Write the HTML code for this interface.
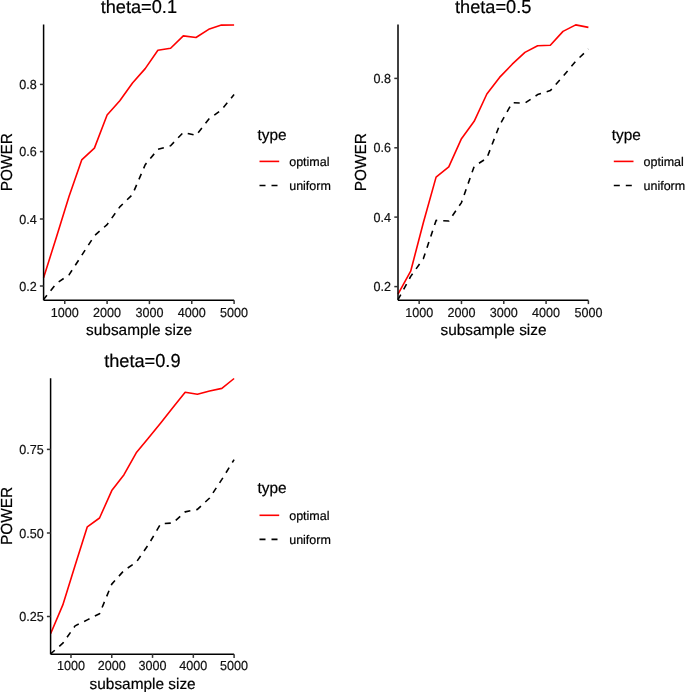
<!DOCTYPE html>
<html><head><meta charset="utf-8"><title>Power curves</title>
<style>
html,body{margin:0;padding:0;background:#fff;}
body{width:685px;height:692px;overflow:hidden;}
svg{display:block;font-family:"Liberation Sans",Arial,Helvetica,sans-serif;}
text{stroke-width:0.2px;paint-order:stroke;text-rendering:geometricPrecision;}
</style></head>
<body>
<svg width="685" height="692" viewBox="0 0 685 692">
<rect width="685" height="692" fill="#fff"/>
<text x="100.65" y="13.00" font-size="18.2" fill="#000" stroke="#000">theta=</text>
<text transform="translate(151.75,13.00) scale(1,1.04)" font-size="18.2" fill="#000" stroke="#000">0.1</text>
<polyline points="43.60,277.70 56.30,237.50 69.00,196.60 81.70,159.90 94.40,148.10 107.10,115.00 119.80,100.80 132.50,83.00 145.20,68.60 157.90,50.20 170.60,48.30 183.30,35.90 196.00,37.50 208.70,29.30 221.40,25.10 234.10,25.00" fill="none" stroke="#FF0000" stroke-width="1.6" stroke-linejoin="round"/>
<polyline points="43.60,299.50 56.30,283.50 69.00,274.90 81.70,255.40 94.40,235.80 107.10,224.60 119.80,206.90 132.50,194.50 145.20,164.70 157.90,149.40 170.60,145.70 183.30,132.40 196.00,135.40 208.70,119.20 221.40,109.90 234.10,94.60" fill="none" stroke="#000" stroke-width="1.6" stroke-linejoin="round" stroke-dasharray="6.00 6.00" stroke-dashoffset="0.69"/>
<line x1="43.60" y1="24.50" x2="43.60" y2="300.35" stroke="#000" stroke-width="1.5"/>
<line x1="43.60" y1="300.35" x2="234.10" y2="300.35" stroke="#000" stroke-width="1.5"/>
<line x1="39.90" y1="286.00" x2="43.60" y2="286.00" stroke="#333" stroke-width="1.5"/>
<text transform="translate(36.70,290.50) scale(1,1.04)" font-size="12.6" text-anchor="end" fill="#111" stroke="#111">0.2</text>
<line x1="39.90" y1="219.00" x2="43.60" y2="219.00" stroke="#333" stroke-width="1.5"/>
<text transform="translate(36.70,223.50) scale(1,1.04)" font-size="12.6" text-anchor="end" fill="#111" stroke="#111">0.4</text>
<line x1="39.90" y1="151.60" x2="43.60" y2="151.60" stroke="#333" stroke-width="1.5"/>
<text transform="translate(36.70,156.10) scale(1,1.04)" font-size="12.6" text-anchor="end" fill="#111" stroke="#111">0.6</text>
<line x1="39.90" y1="84.40" x2="43.60" y2="84.40" stroke="#333" stroke-width="1.5"/>
<text transform="translate(36.70,88.90) scale(1,1.04)" font-size="12.6" text-anchor="end" fill="#111" stroke="#111">0.8</text>
<line x1="64.77" y1="300.35" x2="64.77" y2="304.10" stroke="#333" stroke-width="1.5"/>
<text transform="translate(64.77,316.60) scale(1,1.04)" font-size="12.6" text-anchor="middle" fill="#111" stroke="#111">1000</text>
<line x1="107.10" y1="300.35" x2="107.10" y2="304.10" stroke="#333" stroke-width="1.5"/>
<text transform="translate(107.10,316.60) scale(1,1.04)" font-size="12.6" text-anchor="middle" fill="#111" stroke="#111">2000</text>
<line x1="149.43" y1="300.35" x2="149.43" y2="304.10" stroke="#333" stroke-width="1.5"/>
<text transform="translate(149.43,316.60) scale(1,1.04)" font-size="12.6" text-anchor="middle" fill="#111" stroke="#111">3000</text>
<line x1="191.77" y1="300.35" x2="191.77" y2="304.10" stroke="#333" stroke-width="1.5"/>
<text transform="translate(191.77,316.60) scale(1,1.04)" font-size="12.6" text-anchor="middle" fill="#111" stroke="#111">4000</text>
<line x1="234.10" y1="300.35" x2="234.10" y2="304.10" stroke="#333" stroke-width="1.5"/>
<text transform="translate(234.10,316.60) scale(1,1.04)" font-size="12.6" text-anchor="middle" fill="#111" stroke="#111">5000</text>
<text x="139.15" y="334.70" font-size="15.4" text-anchor="middle" fill="#000" stroke="#000">subsample size</text>
<text transform="translate(11.60,162.25) rotate(-90) scale(1,1.04)" x="0" y="0" font-size="15.4" text-anchor="middle" fill="#000" stroke="#000">POWER</text>
<text x="257.50" y="139.50" font-size="15.4" fill="#000" stroke="#000">type</text>
<line x1="259.50" y1="161.40" x2="279.20" y2="161.40" stroke="#FF0000" stroke-width="1.6"/>
<line x1="259.50" y1="185.50" x2="279.20" y2="185.50" stroke="#000" stroke-width="1.6" stroke-dasharray="6.00 6.00"/>
<text x="289.20" y="165.90" font-size="12.5" fill="#000" stroke="#000">optimal</text>
<text x="289.20" y="189.80" font-size="12.5" fill="#000" stroke="#000">uniform</text>
<text x="455.00" y="13.00" font-size="18.2" fill="#000" stroke="#000">theta=</text>
<text transform="translate(506.10,13.00) scale(1,1.04)" font-size="18.2" fill="#000" stroke="#000">0.5</text>
<polyline points="398.00,294.10 410.69,271.20 423.39,222.50 436.08,177.10 448.77,166.80 461.47,138.70 474.16,121.30 486.85,94.00 499.55,77.40 512.24,64.20 524.93,52.40 537.63,45.80 550.32,45.30 563.01,31.40 575.71,24.90 588.40,27.40" fill="none" stroke="#FF0000" stroke-width="1.6" stroke-linejoin="round"/>
<polyline points="398.00,299.70 410.69,276.40 423.39,258.60 436.08,220.40 448.77,221.00 461.47,202.60 474.16,166.40 486.85,158.10 499.55,125.20 512.24,102.70 524.93,103.10 537.63,94.60 550.32,90.60 563.01,76.40 575.71,61.20 588.40,49.10" fill="none" stroke="#000" stroke-width="1.6" stroke-linejoin="round" stroke-dasharray="6.00 6.00" stroke-dashoffset="0.19"/>
<line x1="398.00" y1="24.50" x2="398.00" y2="300.35" stroke="#000" stroke-width="1.5"/>
<line x1="398.00" y1="300.35" x2="588.40" y2="300.35" stroke="#000" stroke-width="1.5"/>
<line x1="394.30" y1="286.60" x2="398.00" y2="286.60" stroke="#333" stroke-width="1.5"/>
<text transform="translate(391.10,291.10) scale(1,1.04)" font-size="12.6" text-anchor="end" fill="#111" stroke="#111">0.2</text>
<line x1="394.30" y1="217.10" x2="398.00" y2="217.10" stroke="#333" stroke-width="1.5"/>
<text transform="translate(391.10,221.60) scale(1,1.04)" font-size="12.6" text-anchor="end" fill="#111" stroke="#111">0.4</text>
<line x1="394.30" y1="147.80" x2="398.00" y2="147.80" stroke="#333" stroke-width="1.5"/>
<text transform="translate(391.10,152.30) scale(1,1.04)" font-size="12.6" text-anchor="end" fill="#111" stroke="#111">0.6</text>
<line x1="394.30" y1="78.40" x2="398.00" y2="78.40" stroke="#333" stroke-width="1.5"/>
<text transform="translate(391.10,82.90) scale(1,1.04)" font-size="12.6" text-anchor="end" fill="#111" stroke="#111">0.8</text>
<line x1="419.16" y1="300.35" x2="419.16" y2="304.10" stroke="#333" stroke-width="1.5"/>
<text transform="translate(419.16,316.60) scale(1,1.04)" font-size="12.6" text-anchor="middle" fill="#111" stroke="#111">1000</text>
<line x1="461.47" y1="300.35" x2="461.47" y2="304.10" stroke="#333" stroke-width="1.5"/>
<text transform="translate(461.47,316.60) scale(1,1.04)" font-size="12.6" text-anchor="middle" fill="#111" stroke="#111">2000</text>
<line x1="503.78" y1="300.35" x2="503.78" y2="304.10" stroke="#333" stroke-width="1.5"/>
<text transform="translate(503.78,316.60) scale(1,1.04)" font-size="12.6" text-anchor="middle" fill="#111" stroke="#111">3000</text>
<line x1="546.09" y1="300.35" x2="546.09" y2="304.10" stroke="#333" stroke-width="1.5"/>
<text transform="translate(546.09,316.60) scale(1,1.04)" font-size="12.6" text-anchor="middle" fill="#111" stroke="#111">4000</text>
<line x1="588.40" y1="300.35" x2="588.40" y2="304.10" stroke="#333" stroke-width="1.5"/>
<text transform="translate(588.40,316.60) scale(1,1.04)" font-size="12.6" text-anchor="middle" fill="#111" stroke="#111">5000</text>
<text x="493.50" y="334.70" font-size="15.4" text-anchor="middle" fill="#000" stroke="#000">subsample size</text>
<text transform="translate(365.90,162.25) rotate(-90) scale(1,1.04)" x="0" y="0" font-size="15.4" text-anchor="middle" fill="#000" stroke="#000">POWER</text>
<text x="611.80" y="139.50" font-size="15.4" fill="#000" stroke="#000">type</text>
<line x1="613.80" y1="161.40" x2="633.50" y2="161.40" stroke="#FF0000" stroke-width="1.6"/>
<line x1="613.80" y1="185.50" x2="633.50" y2="185.50" stroke="#000" stroke-width="1.6" stroke-dasharray="6.00 6.00"/>
<text x="643.50" y="165.90" font-size="12.5" fill="#000" stroke="#000">optimal</text>
<text x="643.50" y="189.80" font-size="12.5" fill="#000" stroke="#000">uniform</text>
<text x="104.15" y="366.90" font-size="18.2" fill="#000" stroke="#000">theta=</text>
<text transform="translate(155.25,366.90) scale(1,1.04)" font-size="18.2" fill="#000" stroke="#000">0.9</text>
<polyline points="50.60,633.70 62.83,604.90 75.07,565.50 87.30,526.80 99.53,518.00 111.77,490.60 124.00,474.70 136.23,452.80 148.47,438.10 160.70,422.90 172.93,407.60 185.17,392.30 197.40,394.30 209.63,391.00 221.87,388.40 234.10,378.50" fill="none" stroke="#FF0000" stroke-width="1.6" stroke-linejoin="round"/>
<polyline points="50.60,653.90 62.83,643.20 75.07,625.90 87.30,619.90 99.53,613.70 111.77,584.10 124.00,570.50 136.23,562.30 148.47,544.60 160.70,523.80 172.93,523.00 185.17,511.90 197.40,509.40 209.63,498.00 221.87,479.40 234.10,459.60" fill="none" stroke="#000" stroke-width="1.6" stroke-linejoin="round" stroke-dasharray="6.00 6.00" stroke-dashoffset="0.45"/>
<line x1="50.60" y1="378.20" x2="50.60" y2="654.15" stroke="#000" stroke-width="1.5"/>
<line x1="50.60" y1="654.15" x2="234.10" y2="654.15" stroke="#000" stroke-width="1.5"/>
<line x1="46.90" y1="616.50" x2="50.60" y2="616.50" stroke="#333" stroke-width="1.5"/>
<text transform="translate(43.70,621.00) scale(1,1.04)" font-size="12.6" text-anchor="end" fill="#111" stroke="#111">0.25</text>
<line x1="46.90" y1="533.00" x2="50.60" y2="533.00" stroke="#333" stroke-width="1.5"/>
<text transform="translate(43.70,537.50) scale(1,1.04)" font-size="12.6" text-anchor="end" fill="#111" stroke="#111">0.50</text>
<line x1="46.90" y1="449.40" x2="50.60" y2="449.40" stroke="#333" stroke-width="1.5"/>
<text transform="translate(43.70,453.90) scale(1,1.04)" font-size="12.6" text-anchor="end" fill="#111" stroke="#111">0.75</text>
<line x1="70.99" y1="654.15" x2="70.99" y2="657.90" stroke="#333" stroke-width="1.5"/>
<text transform="translate(70.99,670.40) scale(1,1.04)" font-size="12.6" text-anchor="middle" fill="#111" stroke="#111">1000</text>
<line x1="111.77" y1="654.15" x2="111.77" y2="657.90" stroke="#333" stroke-width="1.5"/>
<text transform="translate(111.77,670.40) scale(1,1.04)" font-size="12.6" text-anchor="middle" fill="#111" stroke="#111">2000</text>
<line x1="152.54" y1="654.15" x2="152.54" y2="657.90" stroke="#333" stroke-width="1.5"/>
<text transform="translate(152.54,670.40) scale(1,1.04)" font-size="12.6" text-anchor="middle" fill="#111" stroke="#111">3000</text>
<line x1="193.32" y1="654.15" x2="193.32" y2="657.90" stroke="#333" stroke-width="1.5"/>
<text transform="translate(193.32,670.40) scale(1,1.04)" font-size="12.6" text-anchor="middle" fill="#111" stroke="#111">4000</text>
<line x1="234.10" y1="654.15" x2="234.10" y2="657.90" stroke="#333" stroke-width="1.5"/>
<text transform="translate(234.10,670.40) scale(1,1.04)" font-size="12.6" text-anchor="middle" fill="#111" stroke="#111">5000</text>
<text x="142.65" y="688.60" font-size="15.4" text-anchor="middle" fill="#000" stroke="#000">subsample size</text>
<text transform="translate(11.60,516.00) rotate(-90) scale(1,1.04)" x="0" y="0" font-size="15.4" text-anchor="middle" fill="#000" stroke="#000">POWER</text>
<text x="257.50" y="493.40" font-size="15.4" fill="#000" stroke="#000">type</text>
<line x1="259.50" y1="515.30" x2="279.20" y2="515.30" stroke="#FF0000" stroke-width="1.6"/>
<line x1="259.50" y1="539.40" x2="279.20" y2="539.40" stroke="#000" stroke-width="1.6" stroke-dasharray="6.00 6.00"/>
<text x="289.20" y="519.80" font-size="12.5" fill="#000" stroke="#000">optimal</text>
<text x="289.20" y="543.70" font-size="12.5" fill="#000" stroke="#000">uniform</text>
</svg>
</body></html>
